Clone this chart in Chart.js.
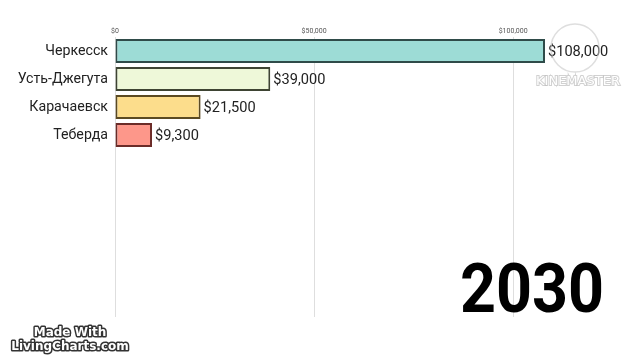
<!DOCTYPE html>
<html>
<head>
<meta charset="utf-8">
<script src="https://cdn.jsdelivr.net/npm/chart.js@4/dist/chart.umd.min.js"></script>
<style>
  html, body { margin: 0; padding: 0; background: #fff; }
  #wrap { width: 640px; height: 360px; }
</style>
</head>
<body>
<div id="wrap"><canvas id="race"></canvas></div>
<script>
// data (year 2030)
const cities = ['Черкесск', 'Усть-Джегута', 'Карачаевск', 'Теберда'];
const values = [108000, 39000, 21500, 9300];
const fills = ['#9ddcd6', '#eef8d9', '#fcdd8c', '#fd978a'];
const borders = ['#2f4b49', '#3e4433', '#5b4a22', '#6b2c28'];
const xTicks = [0, 50000, 100000];
const yearLabel = '2030';
const slots = 10; // the race shows 10 rows, only 4 are filled

// pad rows so the bars keep their height
const labels = cities.concat(Array(slots - cities.length).fill(''));
const data = values.concat(Array(slots - values.length).fill(null));

const money = v => '$' + v.toLocaleString('en-US');

// value labels, year and watermarks
const extras = {
    id: 'extras',
    afterDatasetsDraw(chart) {
        const ctx = chart.ctx;
        const meta = chart.getDatasetMeta(0);
        ctx.save();
        ctx.font = '14.6px Roboto';
        ctx.fillStyle = '#222';
        ctx.textBaseline = 'middle';
        ctx.textAlign = 'left';
        meta.data.forEach((bar, i) => {
            if (values[i] == null) return;
            ctx.fillText(money(values[i]), bar.x + 3, bar.y + 1);
        });
        ctx.restore();
    },
    afterDraw(chart) {
        const ctx = chart.ctx;
        ctx.save();
        // big year
        ctx.translate(460, 312);
        ctx.scale(0.91, 1);
        ctx.font = 'bold 69px Roboto';
        ctx.fillStyle = '#000';
        ctx.textAlign = 'left';
        ctx.textBaseline = 'alphabetic';
        ctx.fillText(yearLabel, 0, 0);
        ctx.restore();

        // LivingCharts watermark
        ctx.save();
        ctx.font = 'bold 12px "DejaVu Sans"';
        ctx.textAlign = 'center';
        ctx.textBaseline = 'middle';
        ctx.lineWidth = 3;
        ctx.strokeStyle = '#333';
        ctx.fillStyle = '#fff';
        ctx.lineJoin = 'round';
        [['Made With', 333], ['LivingCharts.com', 347]].forEach(([t, y]) => {
            ctx.strokeText(t, 70, y);
            ctx.fillText(t, 70, y);
        });
        ctx.restore();

        // KineMaster watermark
        ctx.save();
        ctx.strokeStyle = 'rgba(200,200,200,0.6)';
        ctx.lineWidth = 1.5;
        ctx.beginPath();
        ctx.arc(575, 48, 24, 0, Math.PI * 2);
        ctx.stroke();
        ctx.font = '13px "DejaVu Sans"';
        ctx.textAlign = 'center';
        ctx.textBaseline = 'middle';
        ctx.lineWidth = 2;
        ctx.strokeStyle = 'rgba(190,190,190,0.7)';
        ctx.fillStyle = '#fff';
        ctx.strokeText('KINEMASTER', 578, 82);
        ctx.fillText('KINEMASTER', 578, 82);
        ctx.restore();
    }
};

new Chart(document.getElementById('race').getContext('2d'), {
    type: 'bar',
    data: {
        labels: labels,
        datasets: [{
            data: data,
            backgroundColor: fills,
            borderColor: borders,
            borderWidth: 2,
            borderSkipped: false,
            barPercentage: 0.86,
            categoryPercentage: 1
        }]
    },
    options: {
        indexAxis: 'y',
        responsive: true,
        maintainAspectRatio: false,
        animation: false,
        layout: { padding: { left: 0, right: 95, top: 0, bottom: 43 } },
        plugins: {
            legend: { display: false },
            tooltip: { enabled: false }
        },
        scales: {
            x: {
                position: 'top',
                min: 0,
                max: values[0],
                ticks: {
                    stepSize: 50000,
                    font: { family: 'Roboto', size: 7 },
                    color: '#555',
                    padding: 2,
                    maxRotation: 0,
                    callback: v => money(v)
                },
                afterBuildTicks: s => {
                    s.ticks = xTicks.map(v => ({ value: v }));
                },
                afterFit: s => { s.height = 37; },
                grid: { color: '#dedede', lineWidth: 1, drawTicks: false },
                border: { display: false }
            },
            y: {
                ticks: {
                    font: { family: 'Roboto', size: 14.2 },
                    color: '#222',
                    padding: 7,
                    autoSkip: false
                },
                afterFit: s => { s.width = 115; },
                grid: { display: false, drawTicks: false },
                border: { display: false }
            }
        }
    },
    plugins: [extras]
});
</script>
</body>
</html>
